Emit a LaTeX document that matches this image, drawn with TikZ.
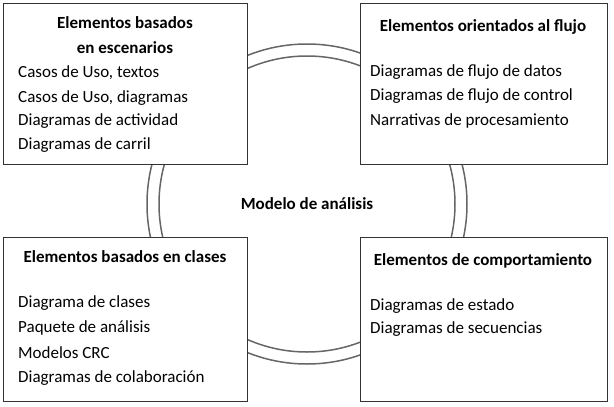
\documentclass[tikz,border=0pt]{standalone}
\usepackage{fontspec}
\setmainfont{Carlito}
\begin{document}
\begin{tikzpicture}[x=1pt,y=-1pt,
  box/.style={draw=black!80,line width=1.2pt,fill=white},
  ttl/.style={font=\fontsize{17}{25}\selectfont\bfseries,align=center,inner sep=0},
  itm/.style={font=\fontsize{17}{20}\selectfont,anchor=west,inner sep=0}]
\useasboundingbox (0,0) rectangle (614,407);
\draw[black!60,line width=1.5pt] (307,204) circle (160);
\draw[black!60,line width=1.5pt] (307,204) circle (148);
\node[box,minimum width=244,minimum height=161,anchor=north west] (tl) at (3,3) {};
\node[box,minimum width=247,minimum height=161,anchor=north west] (tr) at (360,3) {};
\node[box,minimum width=244,minimum height=164,anchor=north west] (bl) at (3,237) {};
\node[box,minimum width=247,minimum height=164,anchor=north west] (br) at (360,237) {};
\node[ttl] (c) at (307,204) {Modelo de análisis};
\node[ttl] (t1) at (125,35) {Elementos basados\\en escenarios};
\node[itm] (a1) at (18,73) {Casos de Uso, textos};
\node[itm] (a2) at (18,98) {Casos de Uso, diagramas};
\node[itm] (a3) at (18,121) {Diagramas de actividad};
\node[itm] (a4) at (18,145) {Diagramas de carril};
\node[ttl] (t2) at (483,27) {Elementos orientados al flujo};
\node[itm] (b1) at (370,72) {Diagramas de flujo de datos};
\node[itm] (b2) at (370,96) {Diagramas de flujo de control};
\node[itm] (b3) at (370,121) {Narrativas de procesamiento};
\node[ttl] (t3) at (125,257) {Elementos basados en clases};
\node[itm] (c1) at (18,303) {Diagrama de clases};
\node[itm] (c2) at (18,328) {Paquete de análisis};
\node[itm] (c3) at (18,353) {Modelos CRC};
\node[itm] (c4) at (18,378) {Diagramas de colaboración};
\node[ttl] (t4) at (483,261) {Elementos de comportamiento};
\node[itm] (d1) at (370,306) {Diagramas de estado};
\node[itm] (d2) at (370,329) {Diagramas de secuencias};
\end{tikzpicture}
\end{document}
